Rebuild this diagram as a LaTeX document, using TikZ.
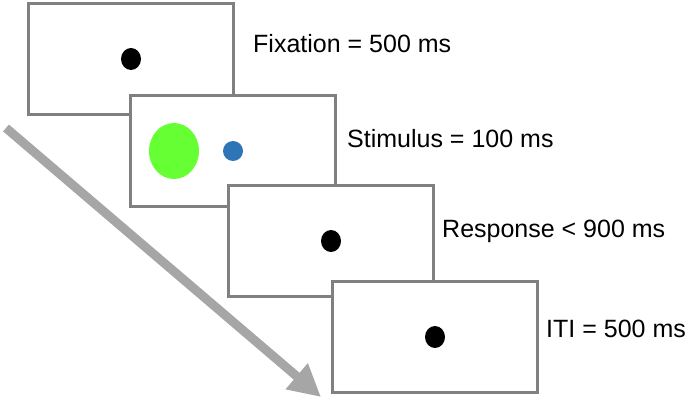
\documentclass[tikz,border=0pt]{standalone}
\usepackage{fontspec}
\setmainfont{Liberation Sans}
\usetikzlibrary{arrows.meta, shapes.geometric}

\definecolor{framegray}{RGB}{128,128,128}
\definecolor{arrowgray}{RGB}{166,166,166}
\definecolor{stimgreen}{RGB}{102,255,51}
\definecolor{stimblue}{RGB}{46,117,182}

\begin{document}
\begin{tikzpicture}[x=1pt, y=-1pt,
        screen/.style={rectangle, draw=framegray, line width=3pt, fill=white,
            minimum width=205pt, minimum height=111pt, inner sep=0pt},
        fixdot/.style={ellipse, fill=black, minimum width=20pt, minimum height=22pt, inner sep=0pt},
        lbl/.style={anchor=base west, inner sep=0pt, font=\fontsize{25}{30}\selectfont}]
        \useasboundingbox (0, 0) rectangle (685, 401);

        % time arrow
        \coordinate (tstart) at (6, 128);
        \coordinate (tend) at (321, 397);
        \draw[arrowgray, line width=9pt, -{Triangle[length=32pt, width=32pt]}] (tstart) -- (tend);

        % screens
        \node[screen] (fix) at (131, 59) {};
        \node[fixdot] (fixdot1) at (fix.center) {};

        \node[screen] (stim) at (233, 151) {};
        \node[ellipse, fill=stimgreen, minimum width=50pt, minimum height=56pt, inner sep=0pt] (green) at (174, 151) {};
        \node[circle, fill=stimblue, minimum size=20pt, inner sep=0pt] (blue) at (stim.center) {};

        \node[screen] (resp) at (331, 241) {};
        \node[fixdot] (fixdot2) at (resp.center) {};

        \node[screen] (iti) at (435, 337) {};
        \node[fixdot] (fixdot3) at (iti.center) {};

        % durations
        \node[lbl] (fixlbl) at (253, 53) {Fixation = 500 ms};
        \node[lbl] (stimlbl) at (347, 147) {Stimulus = 100 ms};
        \node[lbl] (resplbl) at (442, 237) {Response < 900 ms};
        \node[lbl] (itilbl) at (546, 337) {ITI = 500 ms};

\end{tikzpicture}
\end{document}
